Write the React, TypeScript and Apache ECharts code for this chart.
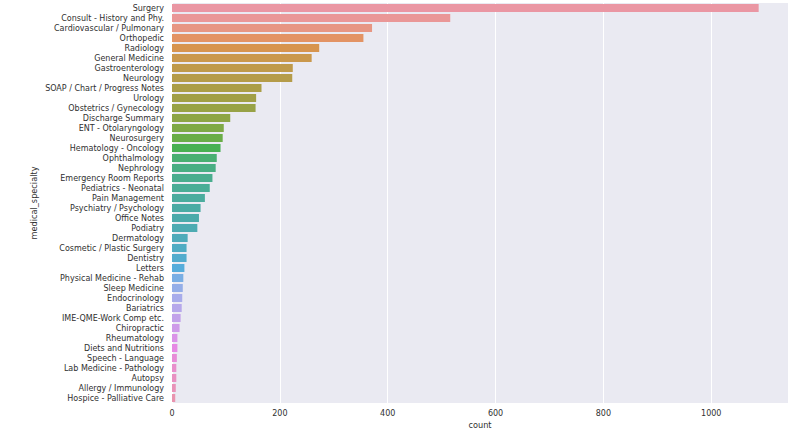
import React, { useEffect, useRef } from "react";
import * as echarts from "echarts";

const categories = [
  "Surgery",
  "Consult - History and Phy.",
  "Cardiovascular / Pulmonary",
  "Orthopedic",
  "Radiology",
  "General Medicine",
  "Gastroenterology",
  "Neurology",
  "SOAP / Chart / Progress Notes",
  "Urology",
  "Obstetrics / Gynecology",
  "Discharge Summary",
  "ENT - Otolaryngology",
  "Neurosurgery",
  "Hematology - Oncology",
  "Ophthalmology",
  "Nephrology",
  "Emergency Room Reports",
  "Pediatrics - Neonatal",
  "Pain Management",
  "Psychiatry / Psychology",
  "Office Notes",
  "Podiatry",
  "Dermatology",
  "Cosmetic / Plastic Surgery",
  "Dentistry",
  "Letters",
  "Physical Medicine - Rehab",
  "Sleep Medicine",
  "Endocrinology",
  "Bariatrics",
  "IME-QME-Work Comp etc.",
  "Chiropractic",
  "Rheumatology",
  "Diets and Nutritions",
  "Speech - Language",
  "Lab Medicine - Pathology",
  "Autopsy",
  "Allergy / Immunology",
  "Hospice - Palliative Care",
];

const counts = [
  1088, 516, 371, 355, 273, 259, 224, 223, 166, 156, 155, 108, 96, 94, 90, 83,
  81, 75, 70, 61, 53, 50, 47, 29, 27, 27, 23, 21, 20, 19, 18, 16, 14, 10, 10, 9,
  8, 8, 7, 6,
];

const xTicks = [0, 200, 400, 600, 800, 1000];
const xMax = 1142.4;

// ---- seaborn-like husl palette (style only) ----
const M = [
  [3.2406, -1.5372, -0.4986],
  [-0.9689, 1.8758, 0.0415],
  [0.0557, -0.204, 1.057],
];
const refU = 0.19784;
const refV = 0.46834;
const kappa = 903.3;
const epsilon = 0.008856;

function maxChroma(L: number, H: number) {
  const hrad = (H / 360) * 2 * Math.PI;
  const sinH = Math.sin(hrad);
  const cosH = Math.cos(hrad);
  const sub1 = Math.pow(L + 16, 3) / 1560896;
  const sub2 = sub1 > epsilon ? sub1 : L / kappa;
  let result = Infinity;
  for (const row of M) {
    const [m1, m2, m3] = row;
    const top = (0.99915 * m1 + 1.05122 * m2 + 1.1446 * m3) * sub2;
    const rbottom = 0.8633 * m3 - 0.17266 * m2;
    const lbottom = 0.12949 * m3 - 0.38848 * m1;
    const bottom = (rbottom * sinH + lbottom * cosH) * sub2;
    for (const t of [0, 1]) {
      const C = (L * (top - 1.05122 * t)) / (bottom + 0.17266 * sinH * t);
      if (C > 0 && C < result) result = C;
    }
  }
  return result;
}

function fInv(t: number) {
  return Math.pow(t, 3) > epsilon ? Math.pow(t, 3) : (116 * t - 16) / kappa;
}
function fromLinear(c: number) {
  return c <= 0.0031308 ? 12.92 * c : 1.055 * Math.pow(c, 1 / 2.4) - 0.055;
}

function huslToRgb(H: number, S: number, L: number): number[] {
  const C = (maxChroma(L, H) / 100) * S;
  const hr = (H / 360) * 2 * Math.PI;
  const U = Math.cos(hr) * C;
  const V = Math.sin(hr) * C;
  const varY = fInv((L + 16) / 116);
  const varU = U / (13 * L) + refU;
  const varV = V / (13 * L) + refV;
  const Y = varY;
  const X = -(9 * Y * varU) / ((varU - 4) * varV - varU * varV);
  const Z = (9 * Y - 15 * varV * Y - varV * X) / (3 * varV);
  return M.map((r) =>
    Math.min(1, Math.max(0, fromLinear(r[0] * X + r[1] * Y + r[2] * Z)))
  );
}

function rgbToHls(r: number, g: number, b: number) {
  const maxc = Math.max(r, g, b);
  const minc = Math.min(r, g, b);
  const l = (minc + maxc) / 2;
  if (minc === maxc) return [0, l, 0];
  const s = l <= 0.5 ? (maxc - minc) / (maxc + minc) : (maxc - minc) / (2 - maxc - minc);
  const rc = (maxc - r) / (maxc - minc);
  const gc = (maxc - g) / (maxc - minc);
  const bc = (maxc - b) / (maxc - minc);
  let h: number;
  if (r === maxc) h = bc - gc;
  else if (g === maxc) h = 2 + rc - bc;
  else h = 4 + gc - rc;
  h = ((h / 6) % 1 + 1) % 1;
  return [h, l, s];
}
function v(m1: number, m2: number, hue: number) {
  hue = ((hue % 1) + 1) % 1;
  if (hue < 1 / 6) return m1 + (m2 - m1) * hue * 6;
  if (hue < 0.5) return m2;
  if (hue < 2 / 3) return m1 + (m2 - m1) * (2 / 3 - hue) * 6;
  return m1;
}
function hlsToRgb(h: number, l: number, s: number) {
  if (s === 0) return [l, l, l];
  const m2 = l <= 0.5 ? l * (1 + s) : l + s - l * s;
  const m1 = 2 * l - m2;
  return [v(m1, m2, h + 1 / 3), v(m1, m2, h), v(m1, m2, h - 1 / 3)];
}

function palette(n: number): string[] {
  const out: string[] = [];
  for (let i = 0; i < n; i++) {
    const h = (((i / n + 0.01) % 1) * 359);
    const rgb = huslToRgb(h, 0.9 * 99, 0.7 * 99);
    const [hh, ll, ss] = rgbToHls(rgb[0], rgb[1], rgb[2]);
    const d = hlsToRgb(hh, ll, ss * 0.75);
    out.push(
      "rgb(" + d.map((c) => Math.round(Math.min(1, Math.max(0, c)) * 255)).join(",") + ")"
    );
  }
  return out;
}

const colors = palette(categories.length);
const FONT = "DejaVu Sans";
const TEXT = "#303030";

export default function App() {
  const ref = useRef<HTMLDivElement>(null);
  useEffect(() => {
    if (!ref.current) return;
    const chart = echarts.init(ref.current, undefined, { renderer: "svg" });
    chart.setOption({
      animation: false,
      backgroundColor: "#ffffff",
      grid: { left: 172, right: 18, top: 3, bottom: 35, containLabel: false, show: true, backgroundColor: "#EAEAF2", borderWidth: 0 },
      xAxis: {
        type: "value",
        min: 0,
        max: xMax,
        interval: 200,
        name: "count",
        nameLocation: "middle",
        nameGap: 18,
        nameMoveOverlap: false,
        nameTextStyle: { fontFamily: FONT, fontSize: 8.2, color: TEXT },
        axisLine: { show: false },
        axisTick: { show: false },
        splitLine: { show: true, lineStyle: { color: "#ffffff", width: 1 } },
        axisLabel: {
          fontFamily: FONT,
          fontSize: 8,
          color: TEXT,
          margin: 6,
          showMaxLabel: false,
          formatter: (val: number) => (xTicks.includes(val) ? String(val) : ""),
        },
      },
      yAxis: {
        type: "category",
        data: categories,
        inverse: true,
        name: "medical_specialty",
        nameLocation: "middle",
        nameGap: 134,
        nameRotate: 90,
        nameMoveOverlap: false,
        nameTextStyle: { fontFamily: FONT, fontSize: 8.2, color: TEXT },
        axisLine: { show: false },
        axisTick: { show: false },
        splitLine: { show: false },
        axisLabel: { fontFamily: FONT, fontSize: 8, color: TEXT, margin: 8, interval: 0 },
      },
      series: [
        {
          type: "bar",
          data: counts.map((c, i) => ({ value: c, itemStyle: { color: colors[i] } })),
          barCategoryGap: "20%",
        },
      ],
    });
    return () => chart.dispose();
  }, []);
  return <div ref={ref} style={{ position: "fixed", left: 0, top: 0, width: 806, height: 438 }} />;
}
